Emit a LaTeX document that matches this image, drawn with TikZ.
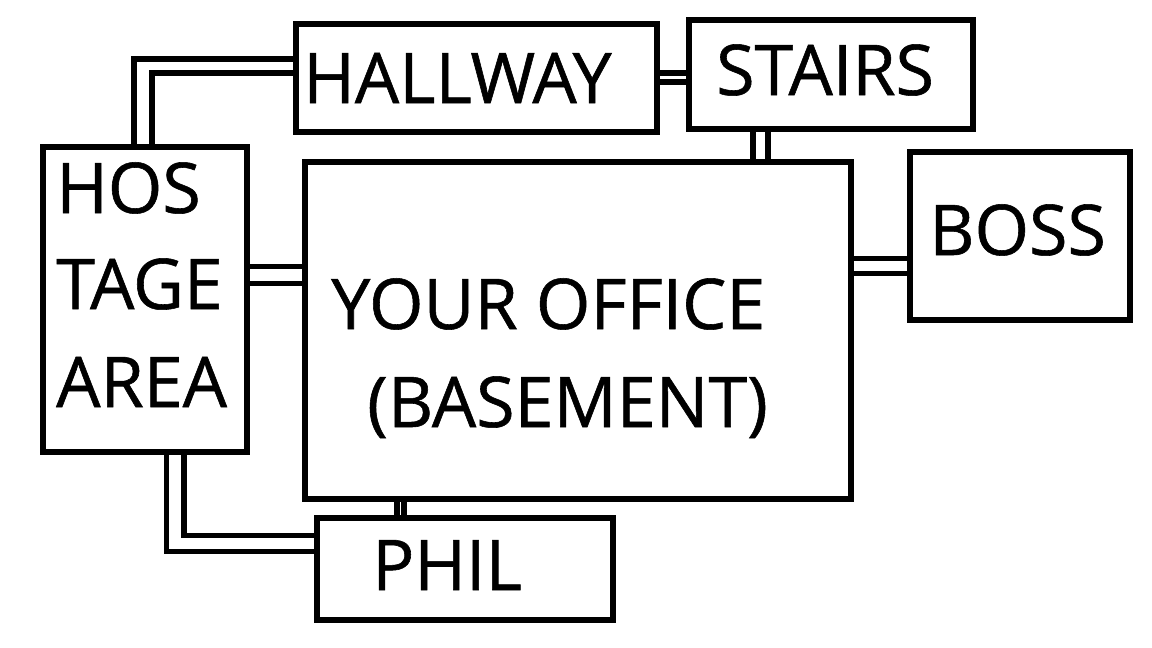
\documentclass[tikz,border=0pt]{standalone}
\usepackage{fontspec}
\setmainfont{Open Sans}
\newfontfamily\roomfont[BoldFont={Open Sans}, BoldFeatures={FakeBold=0.8}]{Open Sans}
\usetikzlibrary{calc}

\begin{document}
\begin{tikzpicture}[
        x=1pt, y=-1pt,
        room/.style={
            draw=black,
            line width=5.5pt,
            inner sep=0pt,
            outer sep=0pt
        },
        wall/.style={draw=black, line width=5.5pt, line cap=round},
        roomname/.style={
            anchor=base west,
            inner sep=0pt,
            font=\roomfont\bfseries\fontsize{70}{84}\selectfont
        }
    ]

    \useasboundingbox (0,0) rectangle (1152,648);

    % rooms
    \node[room, minimum width=361pt, minimum height=108pt] (hall)   at (476.5,78)  {};
    \node[room, minimum width=284pt, minimum height=109pt] (stairs) at (831,74.5)  {};
    \node[room, minimum width=204pt, minimum height=305pt] (host)   at (145,299.5) {};
    \node[room, minimum width=546pt, minimum height=337pt] (office) at (578,330.5) {};
    \node[room, minimum width=220pt, minimum height=168pt] (boss)   at (1020,236)  {};
    \node[room, minimum width=296pt, minimum height=102pt] (phil)   at (465,569)   {};

    % names
    \node[roomname] (hallname)   at (303,103) {HALLWAY};
    \node[roomname] (stairsname) at (716,95)  {STAIRS};
    \node[roomname] (hostA)      at (56,213)  {HOS};
    \node[roomname] (hostB)      at (56,309)  {TAGE};
    \node[roomname] (hostC)      at (56,407)  {AREA};
    \node[roomname] (officeA)    at (331,329) {YOUR OFFICE};
    \node[roomname] (officeB)    at (367,427) {(BASEMENT)};
    \node[roomname] (bossname)   at (929,255) {BOSS};
    \node[roomname] (philname)   at (372,590) {PHIL};

    % hostage area -- hallway
    \coordinate (HHo) at ($(host.north)+(-11,0)$);
    \coordinate (HHi) at ($(host.north)+(7,0)$);
    \coordinate (HHoy) at ($(hall.west)+(0,-19)$);
    \coordinate (HHiy) at ($(hall.west)+(0,-5)$);
    \draw[wall] (HHo) |- (HHoy);
    \draw[wall] (HHi) |- (HHiy);

    % hallway -- stairs
    \coordinate (HSa) at ($(hall.east)+(0,-5)$);
    \coordinate (HSb) at ($(hall.east)+(0,4)$);
    \draw[wall] (HSa) -- (HSa -| stairs.west);
    \draw[wall] (HSb) -- (HSb -| stairs.west);

    % stairs -- office
    \coordinate (SOa) at ($(stairs.south)+(-78,0)$);
    \coordinate (SOb) at ($(stairs.south)+(-63,0)$);
    \draw[wall] (SOa) -- (SOa |- office.north);
    \draw[wall] (SOb) -- (SOb |- office.north);

    % hostage area -- office
    \coordinate (HOa) at ($(host.east)+(0,-33)$);
    \coordinate (HOb) at ($(host.east)+(0,-16)$);
    \draw[wall] (HOa) -- (HOa -| office.west);
    \draw[wall] (HOb) -- (HOb -| office.west);

    % office -- boss
    \coordinate (OBa) at ($(office.east)+(0,-72)$);
    \coordinate (OBb) at ($(office.east)+(0,-57)$);
    \draw[wall] (OBa) -- (OBa -| boss.west);
    \draw[wall] (OBb) -- (OBb -| boss.west);

    % office -- phil
    \coordinate (OPa) at ($(office.south)+(-181,0)$);
    \coordinate (OPb) at ($(office.south)+(-174,0)$);
    \draw[wall] (OPa) -- (OPa |- phil.north);
    \draw[wall] (OPb) -- (OPb |- phil.north);

    % hostage area -- phil
    \coordinate (HPo) at ($(host.south)+(21.5,0)$);
    \coordinate (HPi) at ($(host.south)+(39,0)$);
    \coordinate (HPoy) at ($(phil.west)+(0,-17.5)$);
    \coordinate (HPiy) at ($(phil.west)+(0,-33.5)$);
    \draw[wall] (HPo) |- (HPoy);
    \draw[wall] (HPi) |- (HPiy);

\end{tikzpicture}
\end{document}
